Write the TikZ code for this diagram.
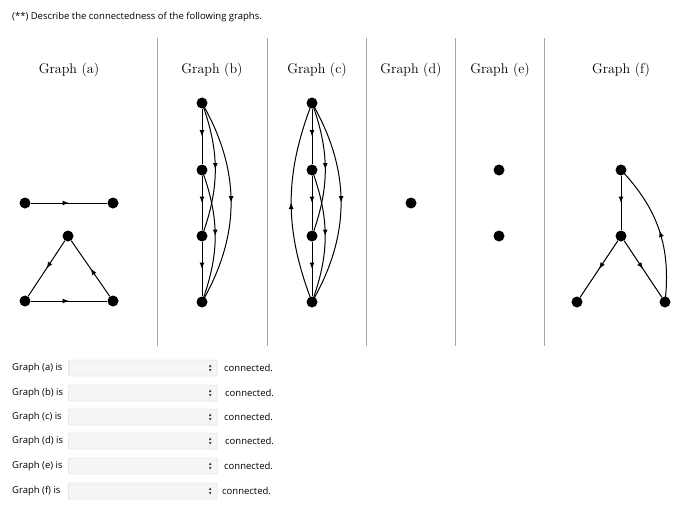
\documentclass[tikz,border=0pt]{standalone}
\usepackage{fontspec}
\newfontfamily\uifont{Open Sans}
\usetikzlibrary{decorations.markings,arrows.meta,calc}
\begin{document}
\begin{tikzpicture}[x=1pt,y=-1pt,
  v/.style={circle,fill=black,inner sep=0pt,minimum size=11pt},
  e/.style={line width=1pt,postaction={decorate},decoration={markings,mark=at position 0.5 with {\arrow{Latex[length=6.5pt,width=5pt]}}}},
  sep/.style={gray!70,line width=0.8pt},
  ttl/.style={font=\fontsize{14}{16}\selectfont,anchor=center},
  lbl/.style={font=\uifont\fontsize{9.5}{11}\selectfont,anchor=west,inner sep=0pt},
  box/.style={draw=gray!35,fill=gray!8,rounded corners=2pt,minimum width=149pt,minimum height=16pt,anchor=west,inner sep=0pt}]
\useasboundingbox (0,0) rectangle (700,524);
\node[lbl] (q) at (12,17) {(**) Describe the connectedness of the following graphs.};
% separators
\foreach \x/\n in {157/s1,267/s2,366/s3,455/s4,544/s5}{
  \coordinate (\n t) at (\x,38); \coordinate (\n b) at (\x,346);
  \draw[sep] (\n t) -- (\n b);}
\node[ttl] (ta) at (69,70) {Graph (a)};
\node[ttl] (tb) at (212,70) {Graph (b)};
\node[ttl] (tc) at (317,70) {Graph (c)};
\node[ttl] (td) at (411,70) {Graph (d)};
\node[ttl] (te) at (500,70) {Graph (e)};
\node[ttl] (tf) at (621,70) {Graph (f)};
% graph a
\node[v] (a1) at (25,203) {}; \node[v] (a2) at (113,203) {};
\node[v] (a3) at (68,236) {}; \node[v] (a4) at (25,301) {}; \node[v] (a5) at (113,301) {};
\draw[e] (a1) -- (a2);
\draw[e] (a3) -- (a4);
\draw[e] (a4) -- (a5);
\draw[e] (a5) -- (a3);
% graph b
\node[v] (b1) at (202,103) {}; \node[v] (b2) at (202,170) {};
\node[v] (b3) at (202,236) {}; \node[v] (b4) at (202,302) {};
\draw[e] (b1) -- (b2); \draw[e] (b2) -- (b3); \draw[e] (b3) -- (b4);
\draw[e] (b1.center) to[bend left=20] (b3.center);
\draw[e] (b2.center) to[bend left=20] (b4.center);
\draw[e] (b1.center) to[bend left=30] (b4.center);
% graph c
\node[v] (c1) at (312,103) {}; \node[v] (c2) at (312,170) {};
\node[v] (c3) at (312,236) {}; \node[v] (c4) at (312,302) {};
\draw[e] (c1) -- (c2); \draw[e] (c2) -- (c3); \draw[e] (c3) -- (c4);
\draw[e] (c1.center) to[bend left=20] (c3.center);
\draw[e] (c2.center) to[bend left=20] (c4.center);
\draw[e] (c1.center) to[bend left=30] (c4.center);
\draw[e] (c4.center) to[bend left=21] (c1.center);
% graph d
\node[v] (d1) at (411,203) {};
% graph e
\node[v] (e1) at (499,170) {}; \node[v] (e2) at (499,236) {};
% graph f
\node[v] (f1) at (621,170) {}; \node[v] (f2) at (621,236) {};
\node[v] (f3) at (577,302) {}; \node[v] (f4) at (665,302) {};
\draw[e] (f1) -- (f2); \draw[e] (f2) -- (f3); \draw[e] (f2) -- (f4);
\draw[e] (f4.center) to[bend right=25] (f1.center);
% form
\foreach \y/\g/\cx [count=\i] in {368/a/224,393/b/225,417/c/224,441/d/225,466/e/224,491/f/222}{
  \node[lbl] (l\i) at (12,\y) {Graph (\g) is};
  \node[box] (x\i) at (68,\y) {};
  \fill[black!80] ($(x\i.east)+(-6,-1)$) -- ++(-2.4,0) -- ++(1.2,-2.5) -- cycle;
  \fill[black!80] ($(x\i.east)+(-6,1)$) -- ++(-2.4,0) -- ++(1.2,2.5) -- cycle;
  \node[lbl] (k\i) at (\cx,\y) {connected.};
}
\end{tikzpicture}
\end{document}
